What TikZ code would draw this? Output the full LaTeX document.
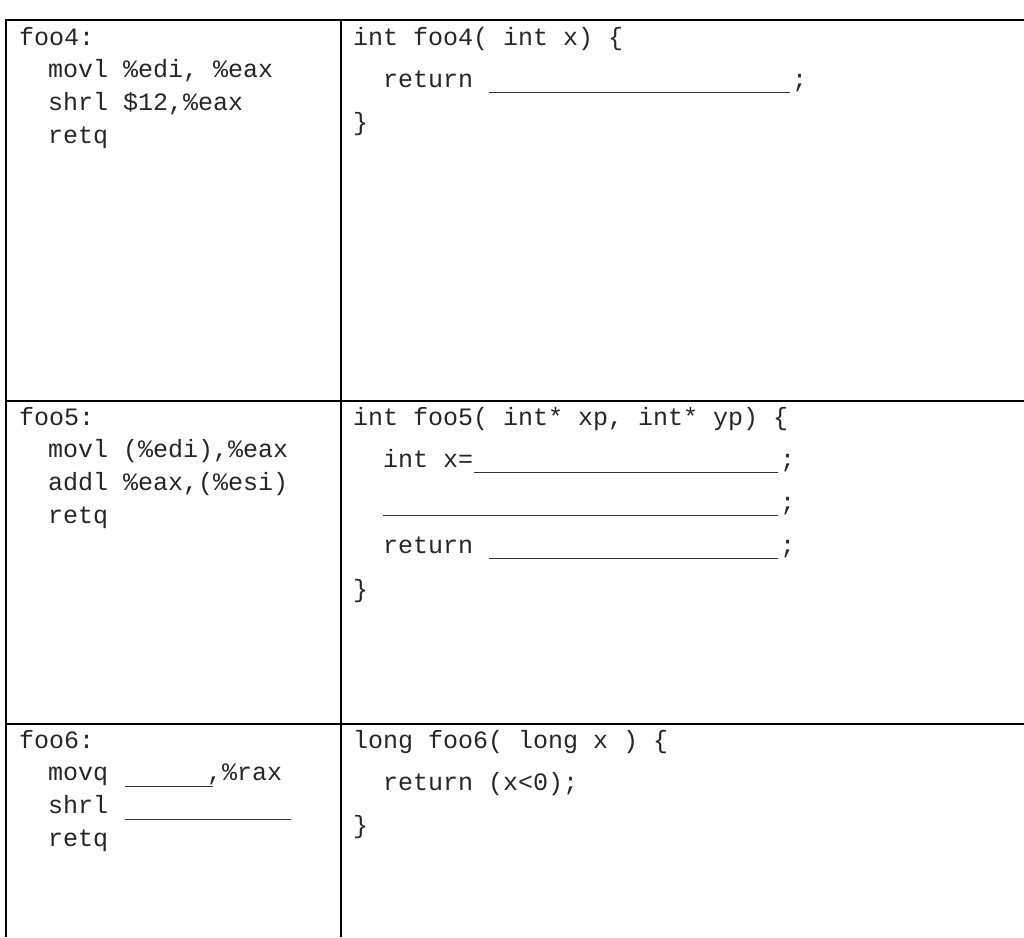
\documentclass[tikz,border=0pt]{standalone}
\usepackage{fontspec}
\setmonofont{Liberation Mono}
\begin{document}
\begin{tikzpicture}[x=1pt,y=-1pt,
  code/.style={anchor=base west,inner sep=0pt,font=\ttfamily\fontsize{25}{25}\selectfont,text=black!85},
  rule/.style={line width=1.3pt,black},
  blank/.style={line width=1pt,black!80}]
\useasboundingbox (0,0) rectangle (1024,937);
% grid
\draw[rule] (6,937) -- (6,20) -- (1024,20);
\draw[rule] (341,20) -- (341,937);
\draw[rule] (6,401) -- (1024,401);
\draw[rule] (6,724) -- (1024,724);
% row 1
\node[code] (a1) at (19,45) {foo4:};
\node[code] (a2) at (48,77) {movl \%edi, \%eax};
\node[code] (a3) at (48,110) {shrl \$12,\%eax};
\node[code] (a4) at (48,143) {retq};
\node[code] (b1) at (353,45) {int foo4( int x) \{};
\node[code] (b2) at (383,87) {return};
\coordinate (l1s) at (489,92); \coordinate (l1e) at (790,92);
\draw[blank] (l1s) -- (l1e);
\node[code] (b3) at (792,87) {;};
\node[code] (b4) at (353,130) {\}};
% row 2
\node[code] (c1) at (19,425) {foo5:};
\node[code] (c2) at (48,457) {movl (\%edi),\%eax};
\node[code] (c3) at (48,490) {addl \%eax,(\%esi)};
\node[code] (c4) at (48,523) {retq};
\node[code] (d1) at (353,425) {int foo5( int* xp, int* yp) \{};
\node[code] (d2) at (383,467) {int x=};
\coordinate (l2s) at (474,472); \coordinate (l2e) at (778,472);
\draw[blank] (l2s) -- (l2e);
\node[code] (d3) at (780,467) {;};
\coordinate (l3s) at (383,515); \coordinate (l3e) at (778,515);
\draw[blank] (l3s) -- (l3e);
\node[code] (d4) at (780,510) {;};
\node[code] (d5) at (383,553) {return};
\coordinate (l4s) at (489,558); \coordinate (l4e) at (778,558);
\draw[blank] (l4s) -- (l4e);
\node[code] (d6) at (780,553) {;};
\node[code] (d7) at (353,597) {\}};
% row 3
\node[code] (e1) at (19,748) {foo6:};
\node[code] (e2) at (48,780) {movq};
\coordinate (l5s) at (125,786); \coordinate (l5e) at (213,786);
\draw[blank] (l5s) -- (l5e);
\node[code] (e3) at (207,780) {,\%rax};
\node[code] (e4) at (48,813) {shrl};
\coordinate (l6s) at (125,819); \coordinate (l6e) at (291,819);
\draw[blank] (l6s) -- (l6e);
\node[code] (e5) at (48,846) {retq};
\node[code] (f1) at (353,748) {long foo6( long x ) \{};
\node[code] (f2) at (383,790) {return (x<0);};
\node[code] (f3) at (353,833) {\}};
\end{tikzpicture}
\end{document}
